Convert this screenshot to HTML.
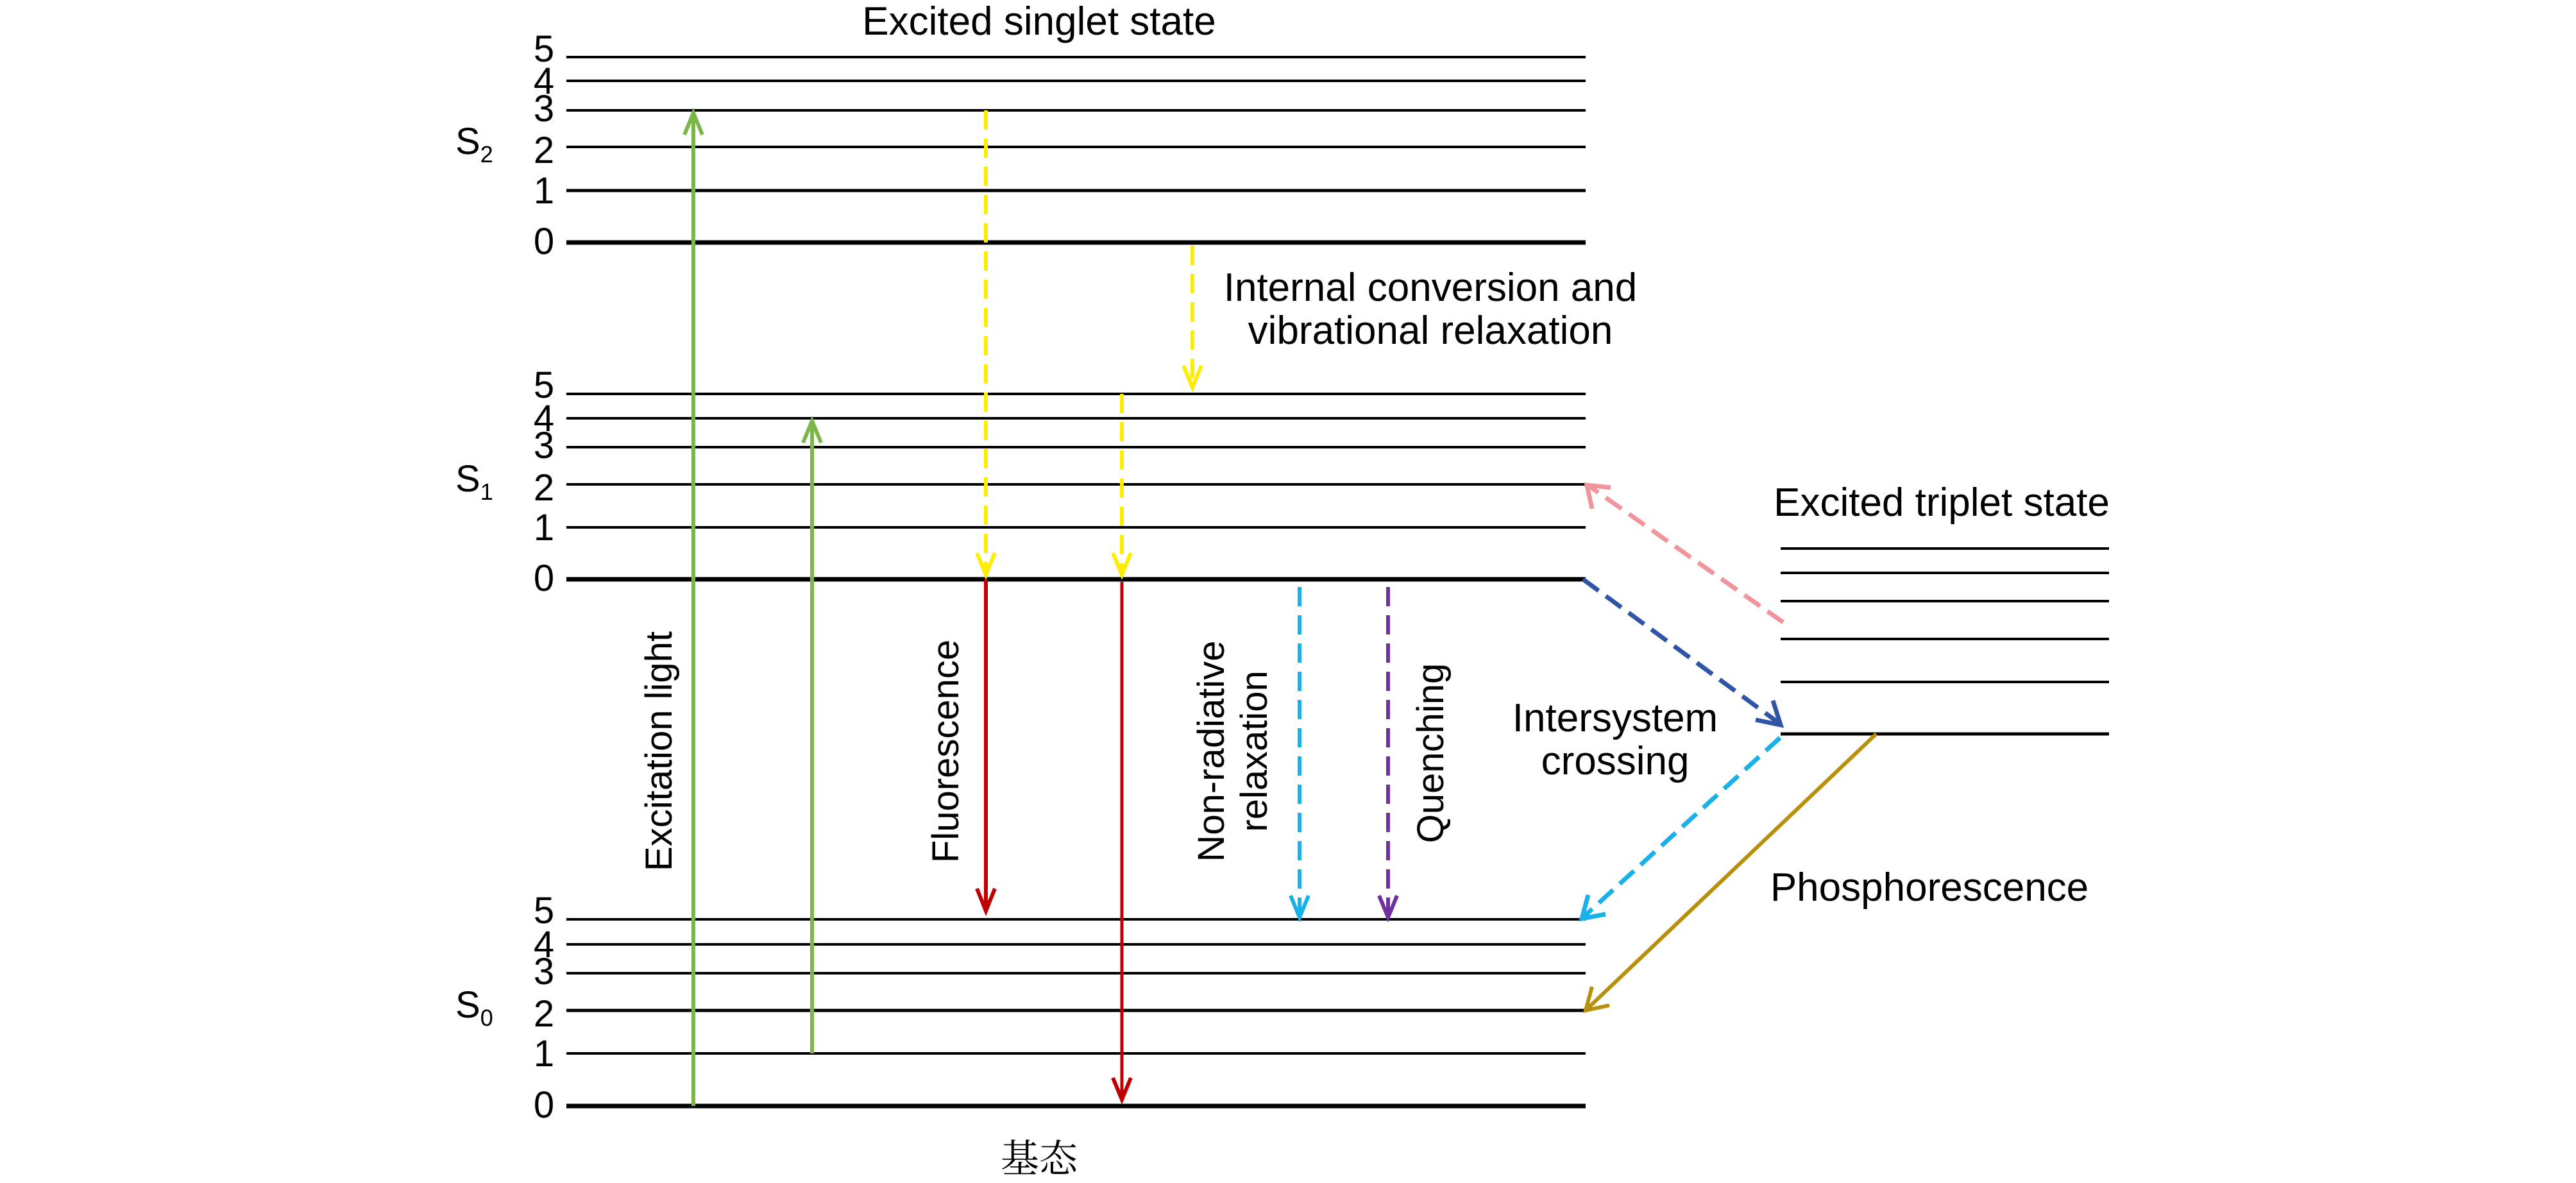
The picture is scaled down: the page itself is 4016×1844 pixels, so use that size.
<!DOCTYPE html>
<html><head><meta charset="utf-8"><style>
html,body{margin:0;padding:0;background:#fff;}
svg{display:block;}
text{font-family:"Liberation Sans",Arial,sans-serif;fill:#000;}
</style></head><body>
<svg width="4016" height="1844" viewBox="0 0 4016 1844" xmlns="http://www.w3.org/2000/svg">
<g stroke="#000">
<line x1="883" x2="2472" y1="89" y2="89" stroke-width="4"/>
<line x1="883" x2="2472" y1="126" y2="126" stroke-width="4"/>
<line x1="883" x2="2472" y1="172" y2="172" stroke-width="4"/>
<line x1="883" x2="2472" y1="229" y2="229" stroke-width="4"/>
<line x1="883" x2="2472" y1="297" y2="297" stroke-width="5"/>
<line x1="883" x2="2472" y1="378" y2="378" stroke-width="7"/>
<line x1="883" x2="2472" y1="614" y2="614" stroke-width="4"/>
<line x1="883" x2="2472" y1="652" y2="652" stroke-width="4"/>
<line x1="883" x2="2472" y1="697" y2="697" stroke-width="4"/>
<line x1="883" x2="2472" y1="755" y2="755" stroke-width="4"/>
<line x1="883" x2="2472" y1="822" y2="822" stroke-width="4"/>
<line x1="883" x2="2472" y1="903" y2="903" stroke-width="7"/>
<line x1="883" x2="2472" y1="1433" y2="1433" stroke-width="4"/>
<line x1="883" x2="2472" y1="1472" y2="1472" stroke-width="4"/>
<line x1="883" x2="2472" y1="1517" y2="1517" stroke-width="4"/>
<line x1="883" x2="2472" y1="1575" y2="1575" stroke-width="5"/>
<line x1="883" x2="2472" y1="1642" y2="1642" stroke-width="4"/>
<line x1="883" x2="2472" y1="1724" y2="1724" stroke-width="7"/>
<line x1="2776" x2="3288" y1="855" y2="855" stroke-width="4"/>
<line x1="2776" x2="3288" y1="893" y2="893" stroke-width="4"/>
<line x1="2776" x2="3288" y1="937" y2="937" stroke-width="4"/>
<line x1="2776" x2="3288" y1="996" y2="996" stroke-width="4"/>
<line x1="2776" x2="3288" y1="1063" y2="1063" stroke-width="4"/>
<line x1="2776" x2="3288" y1="1144" y2="1144" stroke-width="5"/>
</g>
<g font-size="58" text-anchor="middle">
<text x="848" y="96">5</text><text x="848" y="146">4</text><text x="848" y="189">3</text><text x="848" y="254">2</text><text x="848" y="317">1</text><text x="848" y="396">0</text>
<text x="848" y="620">5</text><text x="848" y="672">4</text><text x="848" y="714">3</text><text x="848" y="780">2</text><text x="848" y="842">1</text><text x="848" y="921">0</text>
<text x="848" y="1439">5</text><text x="848" y="1492">4</text><text x="848" y="1534">3</text><text x="848" y="1600">2</text><text x="848" y="1662">1</text><text x="848" y="1742">0</text>
</g>
<g font-size="58">
<text x="710" y="240">S<tspan font-size="36" dy="13">2</tspan></text>
<text x="710" y="766">S<tspan font-size="36" dy="13">1</tspan></text>
<text x="710" y="1586">S<tspan font-size="36" dy="13">0</tspan></text>
</g>
<g fill="none" stroke-width="6">
<line x1="1081" y1="1724" x2="1081" y2="176" stroke="#7ab648"/>
<path d="M1067,210 L1081,176 L1095,210" stroke="#7ab648"/>
<line x1="1266" y1="1642" x2="1266" y2="656" stroke="#7ab648"/>
<path d="M1252,690 L1266,656 L1280,690" stroke="#7ab648"/>
<line x1="1537" y1="172" x2="1537" y2="895" stroke="#ffed00" stroke-dasharray="30,14"/>
<path d="M1523,862 L1537,896 L1551,862" stroke="#ffed00"/>
<line x1="1749" y1="614" x2="1749" y2="895" stroke="#ffed00" stroke-dasharray="30,14"/>
<path d="M1735,862 L1749,896 L1763,862" stroke="#ffed00"/>
<line x1="1859" y1="383" x2="1859" y2="600" stroke="#ffed00" stroke-dasharray="30,14"/>
<path d="M1845,570 L1859,604 L1873,570" stroke="#ffed00"/>
<line x1="1537" y1="903" x2="1537" y2="1418" stroke="#c00000"/>
<path d="M1523,1385 L1537,1420 L1551,1385" stroke="#c00000"/>
<line x1="1749" y1="907" x2="1749" y2="1713" stroke="#c00000" stroke-width="5"/>
<path d="M1735,1680 L1749,1714 L1763,1680" stroke="#c00000"/>
<line x1="2026" y1="915" x2="2026" y2="1425" stroke="#1ab0e8" stroke-dasharray="30,14"/>
<path d="M2012,1396 L2026,1430 L2040,1396" stroke="#1ab0e8"/>
<line x1="2164" y1="915" x2="2164" y2="1425" stroke="#7030a0" stroke-dasharray="30,14"/>
<path d="M2150,1396 L2164,1430 L2178,1396" stroke="#7030a0"/>
<line x1="2780" y1="970" x2="2478" y2="758" stroke="#f0959c" stroke-width="7" stroke-dasharray="30,14"/>
<path d="M2482,793 L2474,756 L2511,760" stroke="#f0959c" stroke-width="7"/>
<line x1="2468" y1="903" x2="2772" y2="1126" stroke="#2f55a4" stroke-width="7" stroke-dasharray="30,14"/>
<path d="M2737,1122 L2776,1130 L2764,1092" stroke="#2f55a4" stroke-width="7"/>
<line x1="2775" y1="1150" x2="2470" y2="1428" stroke="#1ab0e8" stroke-width="7" stroke-dasharray="30,14"/>
<path d="M2476,1395 L2466,1432 L2503,1425" stroke="#1ab0e8" stroke-width="7"/>
<line x1="2925" y1="1144" x2="2475" y2="1572" stroke="#b8900c" stroke-width="6"/>
<path d="M2482,1538 L2472,1575 L2509,1567" stroke="#b8900c" stroke-width="6"/>
</g>
<g font-size="62">
<text x="1620" y="54" text-anchor="middle">Excited singlet state</text>
<text x="2230" y="469" text-anchor="middle">Internal conversion and</text>
<text x="2230" y="536" text-anchor="middle">vibrational relaxation</text>
<text x="3027" y="804" text-anchor="middle">Excited triplet state</text>
<text x="3008" y="1404" text-anchor="middle">Phosphorescence</text>
<text x="2518" y="1140" text-anchor="middle">Intersystem</text>
<text x="2518" y="1207" text-anchor="middle">crossing</text>
</g>
<g font-size="58">
<text transform="translate(1047,1171) rotate(-90)" text-anchor="middle">Excitation light</text>
<text transform="translate(1494,1171) rotate(-90)" text-anchor="middle">Fluorescence</text>
<text transform="translate(1908,1171) rotate(-90)" text-anchor="middle">Non-radiative</text>
<text transform="translate(1975,1171) rotate(-90)" text-anchor="middle">relaxation</text>
<text transform="translate(2250,1174) rotate(-90)" text-anchor="middle">Quenching</text>
<text x="1620" y="1827" font-size="60" text-anchor="middle" style="font-family:'Noto Serif CJK SC','Noto Sans CJK SC',serif">基态</text>
</g>
</svg>
</body></html>
